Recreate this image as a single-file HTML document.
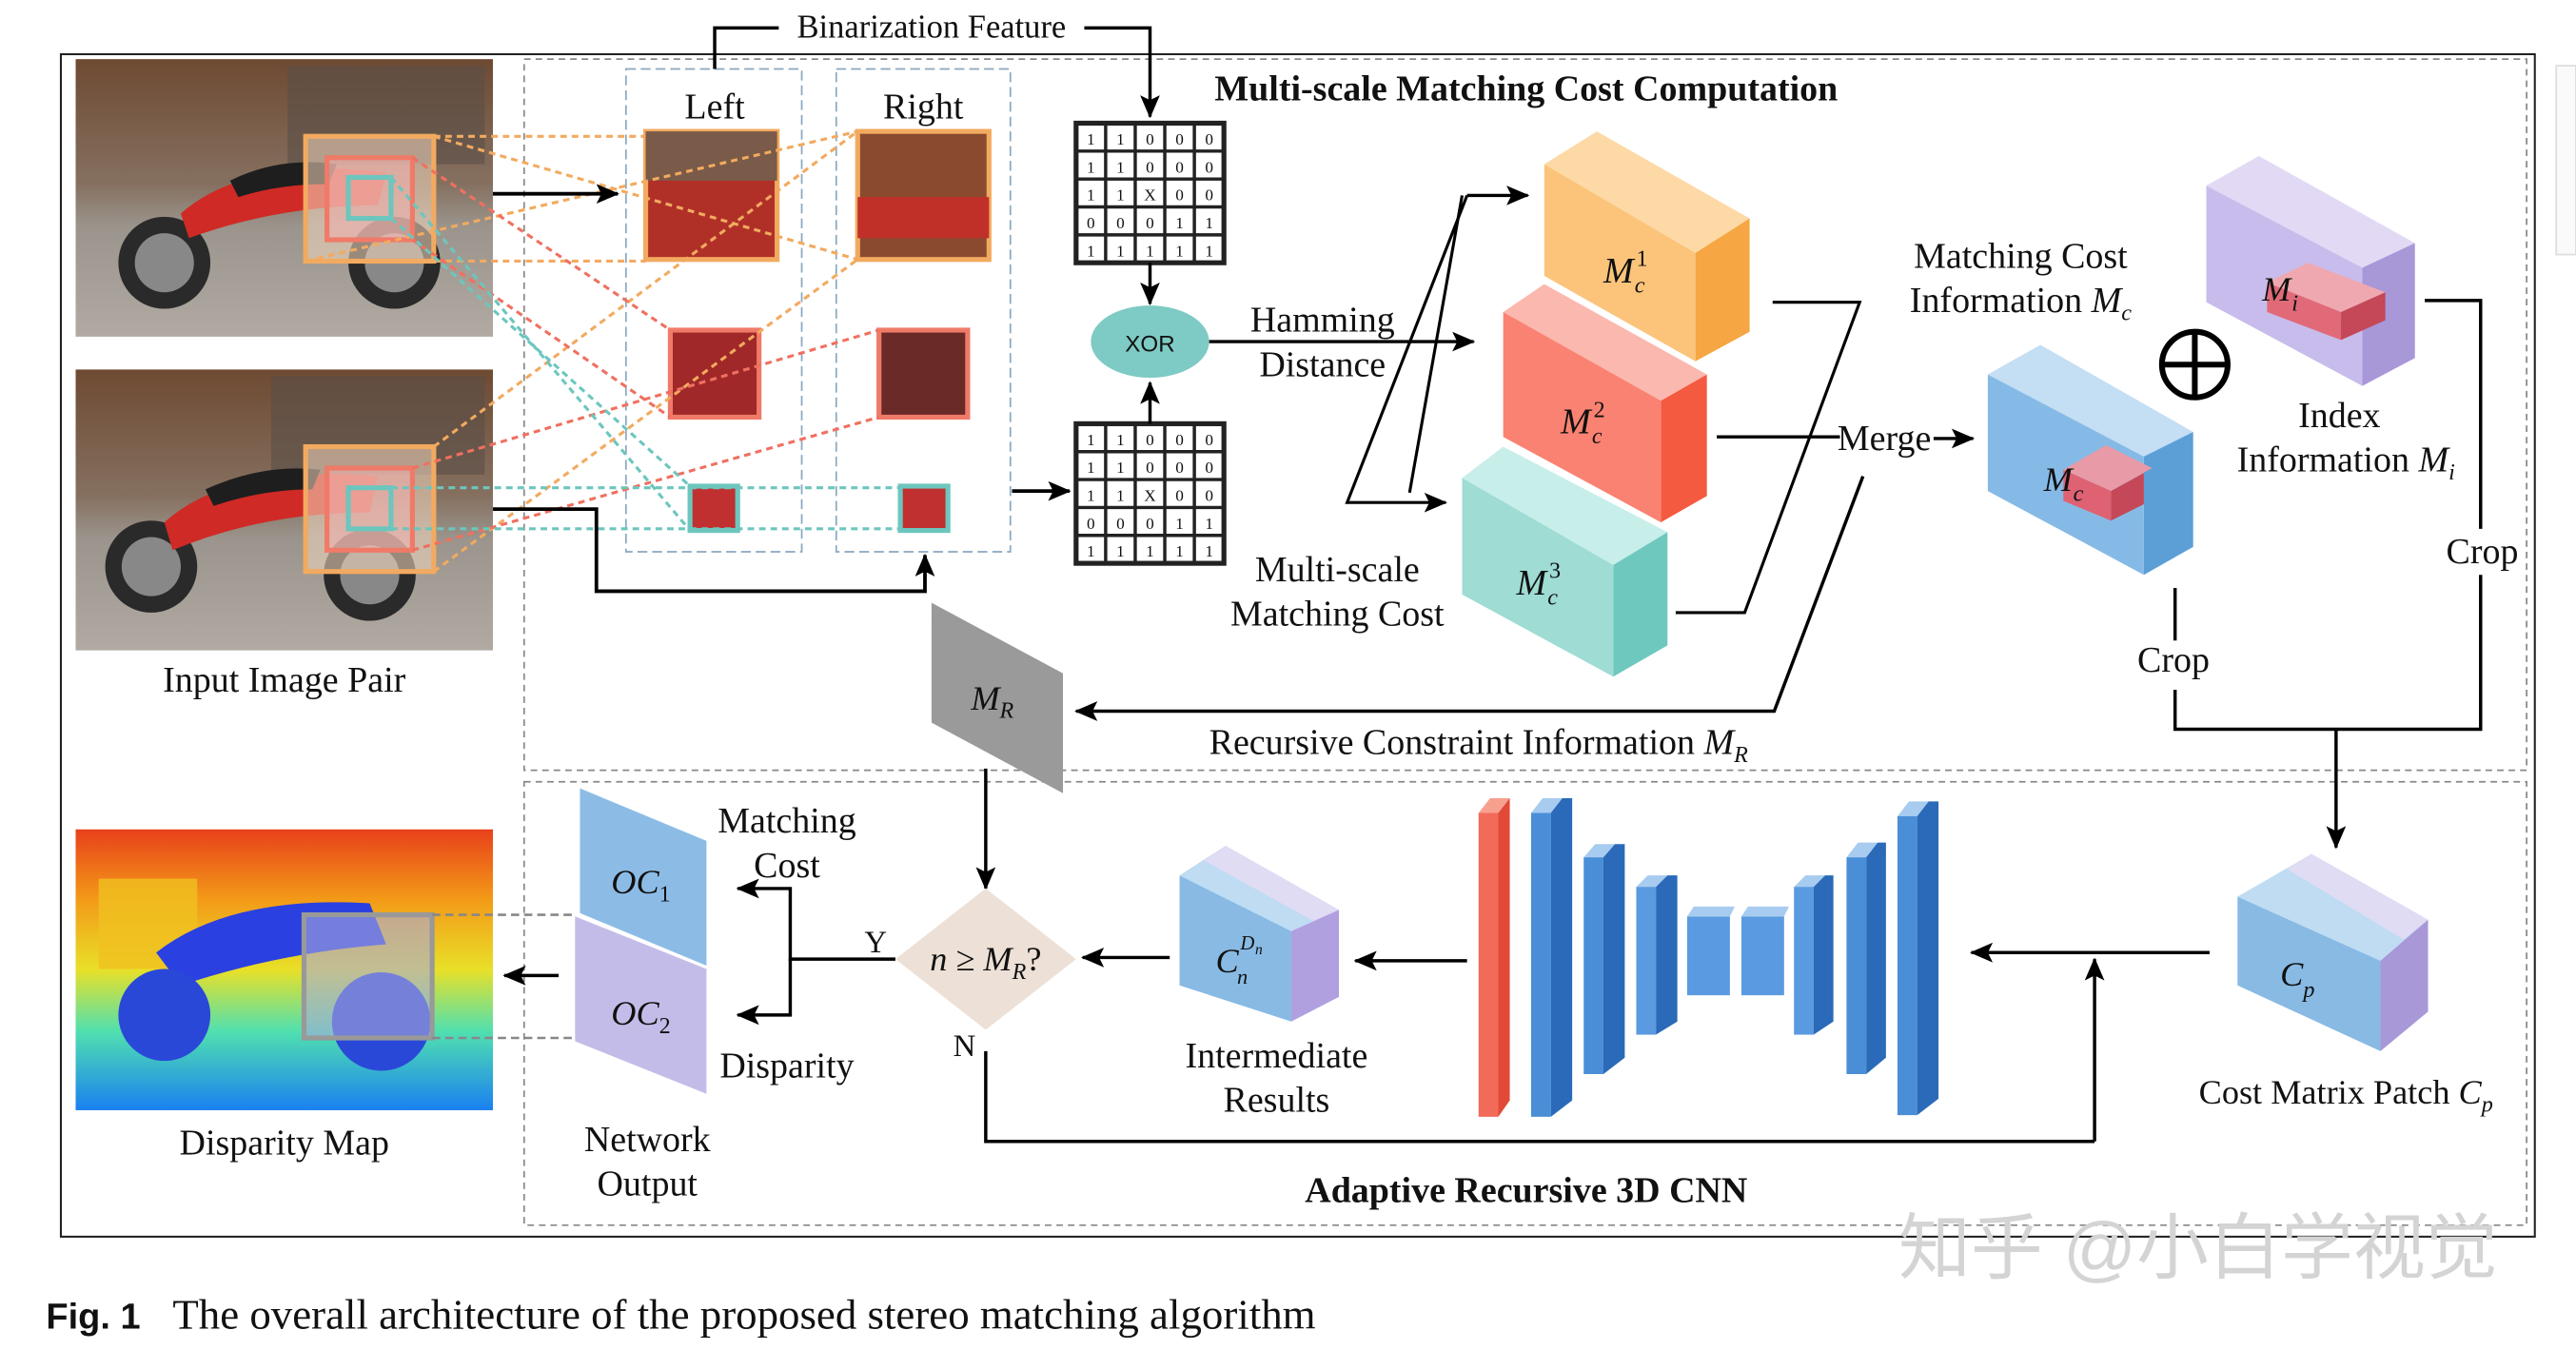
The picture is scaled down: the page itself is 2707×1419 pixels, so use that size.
<!DOCTYPE html>
<html><head><meta charset="utf-8"><style>
html,body{margin:0;padding:0;background:#fff;}
svg{display:block;}
text{font-family:"Liberation Serif",serif;fill:#111;}
</style></head><body>
<svg width="2707" height="1419" viewBox="0 0 1568 822" xmlns="http://www.w3.org/2000/svg">
<defs>
<marker id="a" markerWidth="14" markerHeight="14" refX="13" refY="7" orient="auto" markerUnits="userSpaceOnUse"><path d="M0,1 L14,7 L0,13 L3,7 Z" fill="#000"/></marker>
<marker id="b" markerWidth="14" markerHeight="14" refX="13" refY="7" orient="auto" markerUnits="userSpaceOnUse"><path d="M0,1 L14,7 L0,13 L3,7 Z" fill="#000"/></marker>
<linearGradient id="photo" x1="0" y1="0" x2="0" y2="1"><stop offset="0" stop-color="#6e4a32"/><stop offset="0.45" stop-color="#857060"/><stop offset="0.6" stop-color="#9a948c"/><stop offset="1" stop-color="#b0aaa2"/></linearGradient>
<linearGradient id="disp" x1="0" y1="0" x2="0" y2="1"><stop offset="0" stop-color="#e8401a"/><stop offset="0.25" stop-color="#f39a18"/><stop offset="0.5" stop-color="#e8e028"/><stop offset="0.72" stop-color="#50e0b0"/><stop offset="1" stop-color="#1a80f0"/></linearGradient>
</defs>

<rect x="37" y="33" width="1506" height="720" fill="none" stroke="#222" stroke-width="1.2"/>
<rect x="319" y="36" width="1219" height="433" fill="none" stroke="#888" stroke-dasharray="4,3"/>
<rect x="319" y="476" width="1219" height="270" fill="none" stroke="#888" stroke-dasharray="4,3"/>

<!-- photos -->
<g>
<rect x="46" y="36" width="254" height="169" fill="url(#photo)"/>
<rect x="175" y="40" width="120" height="60" fill="#5a4e48" opacity="0.6"/>
<circle cx="100" cy="160" r="28" fill="#2a2a2a"/><circle cx="100" cy="160" r="18" fill="#888"/>
<circle cx="240" cy="160" r="28" fill="#2a2a2a"/><circle cx="240" cy="160" r="18" fill="#888"/>
<path d="M110,130 Q150,95 235,105 L230,125 Q170,125 115,145 Z" fill="#cf2a25"/>
<path d="M140,110 Q170,95 205,100 L200,112 Q170,112 145,120 Z" fill="#1e1e1e"/>
<rect x="186" y="83" width="78" height="76" fill="#f4d8c0" fill-opacity="0.55" stroke="#f2aa60" stroke-width="3"/>
<rect x="199" y="96" width="52" height="50" fill="#f6b0b0" fill-opacity="0.5" stroke="#f07a68" stroke-width="3"/>
<rect x="212" y="108" width="26" height="25" fill="none" stroke="#6cc6be" stroke-width="3"/>
</g>
<g>
<rect x="46" y="225" width="254" height="171" fill="url(#photo)"/>
<rect x="165" y="229" width="130" height="60" fill="#5a4e48" opacity="0.6"/>
<circle cx="92" cy="345" r="28" fill="#2a2a2a"/><circle cx="92" cy="345" r="18" fill="#888"/>
<circle cx="225" cy="350" r="28" fill="#2a2a2a"/><circle cx="225" cy="350" r="18" fill="#888"/>
<path d="M100,318 Q140,282 230,290 L225,312 Q160,312 105,335 Z" fill="#cf2a25"/>
<path d="M125,298 Q160,282 195,286 L190,298 Q160,298 130,308 Z" fill="#1e1e1e"/>
<rect x="186" y="272" width="78" height="76" fill="#f4d8c0" fill-opacity="0.55" stroke="#f2aa60" stroke-width="3"/>
<rect x="199" y="285" width="52" height="50" fill="#f6b0b0" fill-opacity="0.5" stroke="#f07a68" stroke-width="3"/>
<rect x="212" y="297" width="26" height="25" fill="none" stroke="#6cc6be" stroke-width="3"/>
</g>
<text x="173" y="421" font-size="22" text-anchor="middle">Input Image Pair</text>

<!-- Left/Right -->
<rect x="381" y="42" width="107" height="294" fill="none" stroke="#8aa8c0" stroke-dasharray="6,3"/>
<rect x="509" y="42" width="106" height="294" fill="none" stroke="#8aa8c0" stroke-dasharray="6,3"/>
<text x="435" y="72" font-size="22" text-anchor="middle">Left</text>
<text x="562" y="72" font-size="22" text-anchor="middle">Right</text>
<rect x="393" y="80" width="80" height="78" fill="#b03028" stroke="#f2aa60" stroke-width="3"/>
<rect x="393" y="80" width="80" height="30" fill="#7a5a48"/>
<rect x="522" y="80" width="80" height="78" fill="#8a4a30" stroke="#f2aa60" stroke-width="3"/>
<rect x="522" y="120" width="80" height="25" fill="#c03028"/>
<rect x="408" y="201" width="54" height="53" fill="#a02828" stroke="#f07a68" stroke-width="3"/>
<rect x="535" y="201" width="54" height="53" fill="#6a2a28" stroke="#f07a68" stroke-width="3"/>
<rect x="420" y="296" width="29" height="27" fill="#c03030" stroke="#6cc6be" stroke-width="3"/>
<rect x="548" y="296" width="29" height="27" fill="#c03030" stroke="#6cc6be" stroke-width="3"/>

<g fill="none" stroke-width="1.8" stroke-dasharray="4,3">
<path d="M264,83 H393 M264,159 H393" stroke="#f2aa60"/>
<path d="M264,83 L522,158 M186,159 L522,80" stroke="#f2aa60"/>
<path d="M264,272 L522,80 M264,348 L522,158" stroke="#f2aa60"/>
<path d="M251,96 L408,201 M251,146 L408,254 M251,285 L535,201 M251,335 L535,254" stroke="#f07060"/>
<path d="M238,108 L420,323 M238,133 L420,296 M238,297 H548 M238,322 H548" stroke="#6cc6be"/>
</g>

<path d="M300,118 H376" stroke="#000" stroke-width="2.2" fill="none" marker-end="url(#b)"/>
<path d="M300,310 H363 V360 H563 V338" stroke="#000" stroke-width="2.2" fill="none" marker-end="url(#b)"/>
<path d="M616,299 H651" stroke="#000" stroke-width="2.2" fill="none" marker-end="url(#b)"/>

<path d="M435,42 V17 H474 M660,17 H700 V71" stroke="#000" stroke-width="2" fill="none" marker-end="url(#b)"/>
<text x="567" y="23" font-size="20" text-anchor="middle">Binarization Feature</text>

<!-- matrices -->
<rect x="655" y="75" width="90" height="85" fill="#fff" stroke="#222" stroke-width="3"/>
<path d="M673,75 V160 M691,75 V160 M709,75 V160 M727,75 V160 M655,92 H745 M655,109 H745 M655,126 H745 M655,143 H745" stroke="#222" stroke-width="2"/>
<rect x="655" y="258" width="90" height="85" fill="#fff" stroke="#222" stroke-width="3"/>
<path d="M673,258 V343 M691,258 V343 M709,258 V343 M727,258 V343 M655,275 H745 M655,292 H745 M655,309 H745 M655,326 H745" stroke="#222" stroke-width="2"/>
<g font-size="10" text-anchor="middle">
<text x="664" y="88">1</text><text x="682" y="88">1</text><text x="700" y="88">0</text><text x="718" y="88">0</text><text x="736" y="88">0</text>
<text x="664" y="105">1</text><text x="682" y="105">1</text><text x="700" y="105">0</text><text x="718" y="105">0</text><text x="736" y="105">0</text>
<text x="664" y="122">1</text><text x="682" y="122">1</text><text x="700" y="122">X</text><text x="718" y="122">0</text><text x="736" y="122">0</text>
<text x="664" y="139">0</text><text x="682" y="139">0</text><text x="700" y="139">0</text><text x="718" y="139">1</text><text x="736" y="139">1</text>
<text x="664" y="156">1</text><text x="682" y="156">1</text><text x="700" y="156">1</text><text x="718" y="156">1</text><text x="736" y="156">1</text>
<text x="664" y="271">1</text><text x="682" y="271">1</text><text x="700" y="271">0</text><text x="718" y="271">0</text><text x="736" y="271">0</text>
<text x="664" y="288">1</text><text x="682" y="288">1</text><text x="700" y="288">0</text><text x="718" y="288">0</text><text x="736" y="288">0</text>
<text x="664" y="305">1</text><text x="682" y="305">1</text><text x="700" y="305">X</text><text x="718" y="305">0</text><text x="736" y="305">0</text>
<text x="664" y="322">0</text><text x="682" y="322">0</text><text x="700" y="322">0</text><text x="718" y="322">1</text><text x="736" y="322">1</text>
<text x="664" y="339">1</text><text x="682" y="339">1</text><text x="700" y="339">1</text><text x="718" y="339">1</text><text x="736" y="339">1</text>
</g>
<path d="M700,160 V185" stroke="#000" stroke-width="2" marker-end="url(#b)"/>
<path d="M700,258 V233" stroke="#000" stroke-width="2" marker-end="url(#b)"/>
<ellipse cx="700" cy="208" rx="36" ry="22" fill="#7ecac4"/>
<text x="700" y="214" font-size="14" text-anchor="middle" style="font-family:'Liberation Sans',sans-serif">XOR</text>
<path d="M736,208 H897" stroke="#000" stroke-width="2" marker-end="url(#b)"/>
<text x="805" y="202" font-size="22" text-anchor="middle">Hamming</text>
<text x="805" y="229" font-size="22" text-anchor="middle">Distance</text>

<text x="929" y="61" font-size="22" font-weight="bold" text-anchor="middle">Multi-scale Matching Cost Computation</text>

<!-- Mc1 -->
<polygon points="940,100 972,80 1065,133 1032,154" fill="#fdd9a6"/>
<polygon points="1032,154 1065,133 1065,202 1032,220" fill="#f6a642"/>
<polygon points="940,100 1032,154 1032,220 940,168" fill="#fbc47a"/>
<text x="976" y="172" font-size="22" font-style="italic">M</text><text x="995" y="178" font-size="14" font-style="italic">c</text><text x="996" y="162" font-size="14">1</text>
<!-- Mc2 -->
<polygon points="915,190 940,173 1039,228 1011,244" fill="#fbb8ae"/>
<polygon points="1011,244 1039,228 1039,302 1011,318" fill="#f45a40"/>
<polygon points="915,190 1011,244 1011,318 915,266" fill="#fa8272"/>
<text x="950" y="264" font-size="22" font-style="italic">M</text><text x="969" y="270" font-size="14" font-style="italic">c</text><text x="970" y="254" font-size="14">2</text>
<!-- Mc3 -->
<polygon points="890,291 915,272 1015,324 982,344" fill="#c8eeea"/>
<polygon points="982,344 1015,324 1015,393 982,412" fill="#6ec8be"/>
<polygon points="890,291 982,344 982,412 890,362" fill="#9edcd4"/>
<text x="923" y="362" font-size="22" font-style="italic">M</text><text x="942" y="368" font-size="14" font-style="italic">c</text><text x="943" y="352" font-size="14">3</text>

<path d="M893,119 H930" stroke="#000" stroke-width="2" fill="none" marker-end="url(#b)"/>
<path d="M893,119 L820,306 H880" stroke="#000" stroke-width="1.8" fill="none" marker-end="url(#b)"/>
<path d="M890,119 L858,300" stroke="#000" stroke-width="1.8" fill="none"/>
<text x="814" y="354" font-size="22" text-anchor="middle">Multi-scale</text>
<text x="814" y="381" font-size="22" text-anchor="middle">Matching Cost</text>

<path d="M1079,184 H1132 L1062,373 H1020" stroke="#000" stroke-width="1.8" fill="none"/>
<path d="M1045,266 H1120" stroke="#000" stroke-width="2" fill="none"/>
<text x="1147" y="274" font-size="22" text-anchor="middle">Merge</text>
<path d="M1177,267 H1201" stroke="#000" stroke-width="2" marker-end="url(#b)"/>
<path d="M1134,290 L1080,433 H655" stroke="#000" stroke-width="2" fill="none" marker-end="url(#b)"/>
<text x="900" y="459" font-size="22" text-anchor="middle">Recursive Constraint Information <tspan font-style="italic">M</tspan><tspan font-size="14" dy="5" font-style="italic">R</tspan></text>

<!-- Mc blue box -->
<polygon points="1210,228 1242,210 1335,263 1305,278" fill="#c4def4"/>
<polygon points="1305,278 1335,263 1335,333 1305,350" fill="#5c9ed6"/>
<polygon points="1210,228 1305,278 1305,350 1210,299" fill="#86bae6"/>
<polygon points="1256,286 1282,271 1310,285 1285,299" fill="#e89aa6"/>
<polygon points="1285,299 1305,288 1305,307 1285,317" fill="#c44858"/>
<polygon points="1256,286 1285,299 1285,317 1256,305" fill="#de6272"/>
<text x="1244" y="299" font-size="21" font-style="italic">M</text><text x="1262" y="305" font-size="14" font-style="italic">c</text>
<text x="1230" y="163" font-size="22" text-anchor="middle">Matching Cost</text>
<text x="1230" y="190" font-size="22" text-anchor="middle">Information <tspan font-style="italic">M</tspan><tspan font-size="14" dy="5" font-style="italic">c</tspan></text>
<circle cx="1336" cy="222" r="20" fill="#fff" stroke="#000" stroke-width="3.5"/>
<path d="M1316,222 H1356 M1336,202 V242" stroke="#000" stroke-width="3.5"/>

<!-- Mi -->
<polygon points="1343,113 1375,95 1470,148 1438,163" fill="#e2daf4"/>
<polygon points="1438,163 1470,148 1470,218 1438,235" fill="#a898d8"/>
<polygon points="1343,113 1438,163 1438,235 1343,184" fill="#c8bcec"/>
<polygon points="1380,172 1405,160 1452,178 1425,190" fill="#f0a8b0"/>
<polygon points="1425,190 1452,178 1452,195 1425,207" fill="#c44858"/>
<polygon points="1380,172 1425,190 1425,207 1380,190" fill="#e06a78"/>
<text x="1377" y="183" font-size="21" font-style="italic">M</text><text x="1395" y="189" font-size="14" font-style="italic">i</text>
<text x="1424" y="260" font-size="22" text-anchor="middle">Index</text>
<text x="1428" y="287" font-size="22" text-anchor="middle">Information <tspan font-style="italic">M</tspan><tspan font-size="14" dy="5" font-style="italic">i</tspan></text>

<path d="M1476,183 H1510 V322 M1510,350 V444 H1324 V420 M1324,390 V358" stroke="#000" stroke-width="2" fill="none"/>
<text x="1511" y="343" font-size="22" text-anchor="middle">Crop</text>
<text x="1323" y="409" font-size="22" text-anchor="middle">Crop</text>
<path d="M1422,444 V516" stroke="#000" stroke-width="2" marker-end="url(#b)"/>

<!-- MR -->
<polygon points="567,367 647,410 647,483 567,440" fill="#9a9a9a"/>
<text x="591" y="432" font-size="21" font-style="italic">M<tspan font-size="14" dy="5">R</tspan></text>
<path d="M600,468 V541" stroke="#000" stroke-width="2" marker-end="url(#b)"/>

<!-- Cp -->
<polygon points="1362,546 1407,520 1478,560 1449,585" fill="#c0dcf2"/>
<polygon points="1392,529 1407,520 1478,560 1463,572" fill="#e0dcf4"/>
<polygon points="1449,585 1478,560 1478,616 1449,640" fill="#a898d8"/>
<polygon points="1362,546 1449,585 1449,640 1362,600" fill="#88bae4"/>
<text x="1388" y="600" font-size="21" font-style="italic">C</text><text x="1402" y="607" font-size="14" font-style="italic">p</text>
<text x="1428" y="672" font-size="21" text-anchor="middle">Cost Matrix Patch <tspan font-style="italic">C</tspan><tspan font-size="14" dy="5" font-style="italic">p</tspan></text>
<path d="M1345,580 H1200" stroke="#000" stroke-width="2" marker-end="url(#b)"/>
<path d="M1275,695 V584" stroke="#000" stroke-width="2" marker-end="url(#b)"/>
<path d="M600,640 V695 H1275" stroke="#000" stroke-width="2" fill="none"/>

<!-- CNN -->
<g>
<polygon points="900,495 907,486 919,486 912,495" fill="#f8a090"/><rect x="900" y="495" width="12" height="185" fill="#f26a58"/><polygon points="912,495 919,486 919,670 912,680" fill="#e04a36"/>
<polygon points="932,495 939,486 951,486 944,495" fill="#a8ccf0"/><rect x="932" y="495" width="12" height="185" fill="#4a8ed8"/><polygon points="944,495 951,486 957,486 957,670 944,680" fill="#2a6ab8"/>
<polygon points="964,522 971,514 983,514 976,522" fill="#a8ccf0"/><rect x="964" y="522" width="12" height="132" fill="#4a8ed8"/><polygon points="976,522 983,514 989,514 989,644 976,654" fill="#2a6ab8"/>
<polygon points="996,540 1003,533 1015,533 1008,540" fill="#a8ccf0"/><rect x="996" y="540" width="12" height="90" fill="#5a9ae0"/><polygon points="1008,540 1015,533 1021,533 1021,622 1008,630" fill="#2a6ab8"/>
<rect x="1027" y="558" width="26" height="48" fill="#5a9ae0"/><polygon points="1027,558 1031,552 1056,552 1053,558" fill="#a8ccf0"/>
<rect x="1060" y="558" width="26" height="48" fill="#5a9ae0"/><polygon points="1060,558 1064,552 1089,552 1086,558" fill="#a8ccf0"/>
<polygon points="1092,540 1099,533 1111,533 1104,540" fill="#a8ccf0"/><rect x="1092" y="540" width="12" height="90" fill="#5a9ae0"/><polygon points="1104,540 1111,533 1116,533 1116,622 1104,630" fill="#2a6ab8"/>
<polygon points="1124,522 1131,513 1143,513 1136,522" fill="#a8ccf0"/><rect x="1124" y="522" width="12" height="132" fill="#4a8ed8"/><polygon points="1136,522 1143,513 1148,513 1148,644 1136,654" fill="#2a6ab8"/>
<polygon points="1155,497 1162,488 1174,488 1167,497" fill="#a8ccf0"/><rect x="1155" y="497" width="12" height="182" fill="#4a8ed8"/><polygon points="1167,497 1174,488 1180,488 1180,669 1167,679" fill="#2a6ab8"/>
</g>
<path d="M893,585 H825" stroke="#000" stroke-width="2" marker-end="url(#b)"/>
<text x="929" y="732" font-size="22" font-weight="bold" text-anchor="middle">Adaptive Recursive 3D CNN</text>

<!-- Cn -->
<polygon points="718,533 746,515 815,554 786,567" fill="#c0dcf2"/>
<polygon points="733,524 746,515 815,554 800,561" fill="#e0dcf4"/>
<polygon points="786,567 815,554 815,607 786,622" fill="#b0a0e0"/>
<polygon points="718,533 786,567 786,622 718,600" fill="#88bae4"/>
<text x="740" y="592" font-size="21" font-style="italic">C</text><text x="753" y="599" font-size="13" font-style="italic">n</text><text x="755" y="578" font-size="12" font-style="italic">D</text><text x="764" y="581" font-size="9" font-style="italic">n</text>
<text x="777" y="650" font-size="22" text-anchor="middle">Intermediate</text>
<text x="777" y="677" font-size="22" text-anchor="middle">Results</text>
<path d="M712,583 H659" stroke="#000" stroke-width="2" marker-end="url(#b)"/>

<!-- diamond -->
<polygon points="600,541 655,584 600,627 545,584" fill="#ede0d6"/>
<text x="600" y="591" font-size="21" text-anchor="middle" font-style="italic">n ≥ M<tspan font-size="14" dy="5">R</tspan><tspan dy="-5" font-style="normal">?</tspan></text>
<text x="533" y="580" font-size="19" text-anchor="middle">Y</text>
<text x="587" y="643" font-size="19" text-anchor="middle">N</text>
<path d="M545,584 H481 V541 H449" stroke="#000" stroke-width="2" fill="none" marker-end="url(#b)"/>
<path d="M481,584 V618 H449" stroke="#000" stroke-width="2" fill="none" marker-end="url(#b)"/>

<!-- OC -->
<polygon points="353,480 430,512 430,588 353,556" fill="#8cbce6"/>
<text x="372" y="544" font-size="21" font-style="italic">OC<tspan font-size="14" dy="5" font-style="normal">1</tspan></text>
<polygon points="350,558 430,590 430,666 350,634" fill="#c4bce8"/>
<text x="372" y="624" font-size="21" font-style="italic">OC<tspan font-size="14" dy="5" font-style="normal">2</tspan></text>
<text x="479" y="507" font-size="22" text-anchor="middle">Matching</text>
<text x="479" y="534" font-size="22" text-anchor="middle">Cost</text>
<text x="479" y="656" font-size="22" text-anchor="middle">Disparity</text>
<text x="394" y="701" font-size="22" text-anchor="middle">Network</text>
<text x="394" y="728" font-size="22" text-anchor="middle">Output</text>
<path d="M340,594 H307" stroke="#000" stroke-width="2" marker-end="url(#b)"/>

<!-- disparity -->
<rect x="46" y="505" width="254" height="171" fill="url(#disp)"/>
<rect x="60" y="535" width="60" height="55" fill="#f0c020" opacity="0.8"/>
<path d="M95,580 Q140,545 225,550 L235,575 Q170,580 110,600 Z" fill="#2a40e0"/>
<circle cx="100" cy="618" r="28" fill="#2a48d8"/><circle cx="232" cy="622" r="30" fill="#2a48d8"/>
<rect x="185" y="557" width="78" height="75" fill="#a8a8d8" fill-opacity="0.6" stroke="#999" stroke-width="3"/>
<path d="M263,557 H350 M263,632 H350" stroke="#888" stroke-width="1.5" stroke-dasharray="5,3"/>
<text x="173" y="703" font-size="22" text-anchor="middle">Disparity Map</text>

<rect x="1556" y="40" width="12" height="115" fill="#fafafa" stroke="#ddd"/>

<text x="1338" y="775" font-size="44" text-anchor="middle" style="fill:#d4d4d4;font-family:'Liberation Sans','Noto Sans CJK SC',sans-serif">知乎 @小白学视觉</text>

<text x="28" y="809" font-size="22" font-weight="bold" style="font-family:'Liberation Sans',sans-serif">Fig. 1</text>
<text x="105" y="809" font-size="26">The overall architecture of the proposed stereo matching algorithm</text>
</svg>
</body></html>
